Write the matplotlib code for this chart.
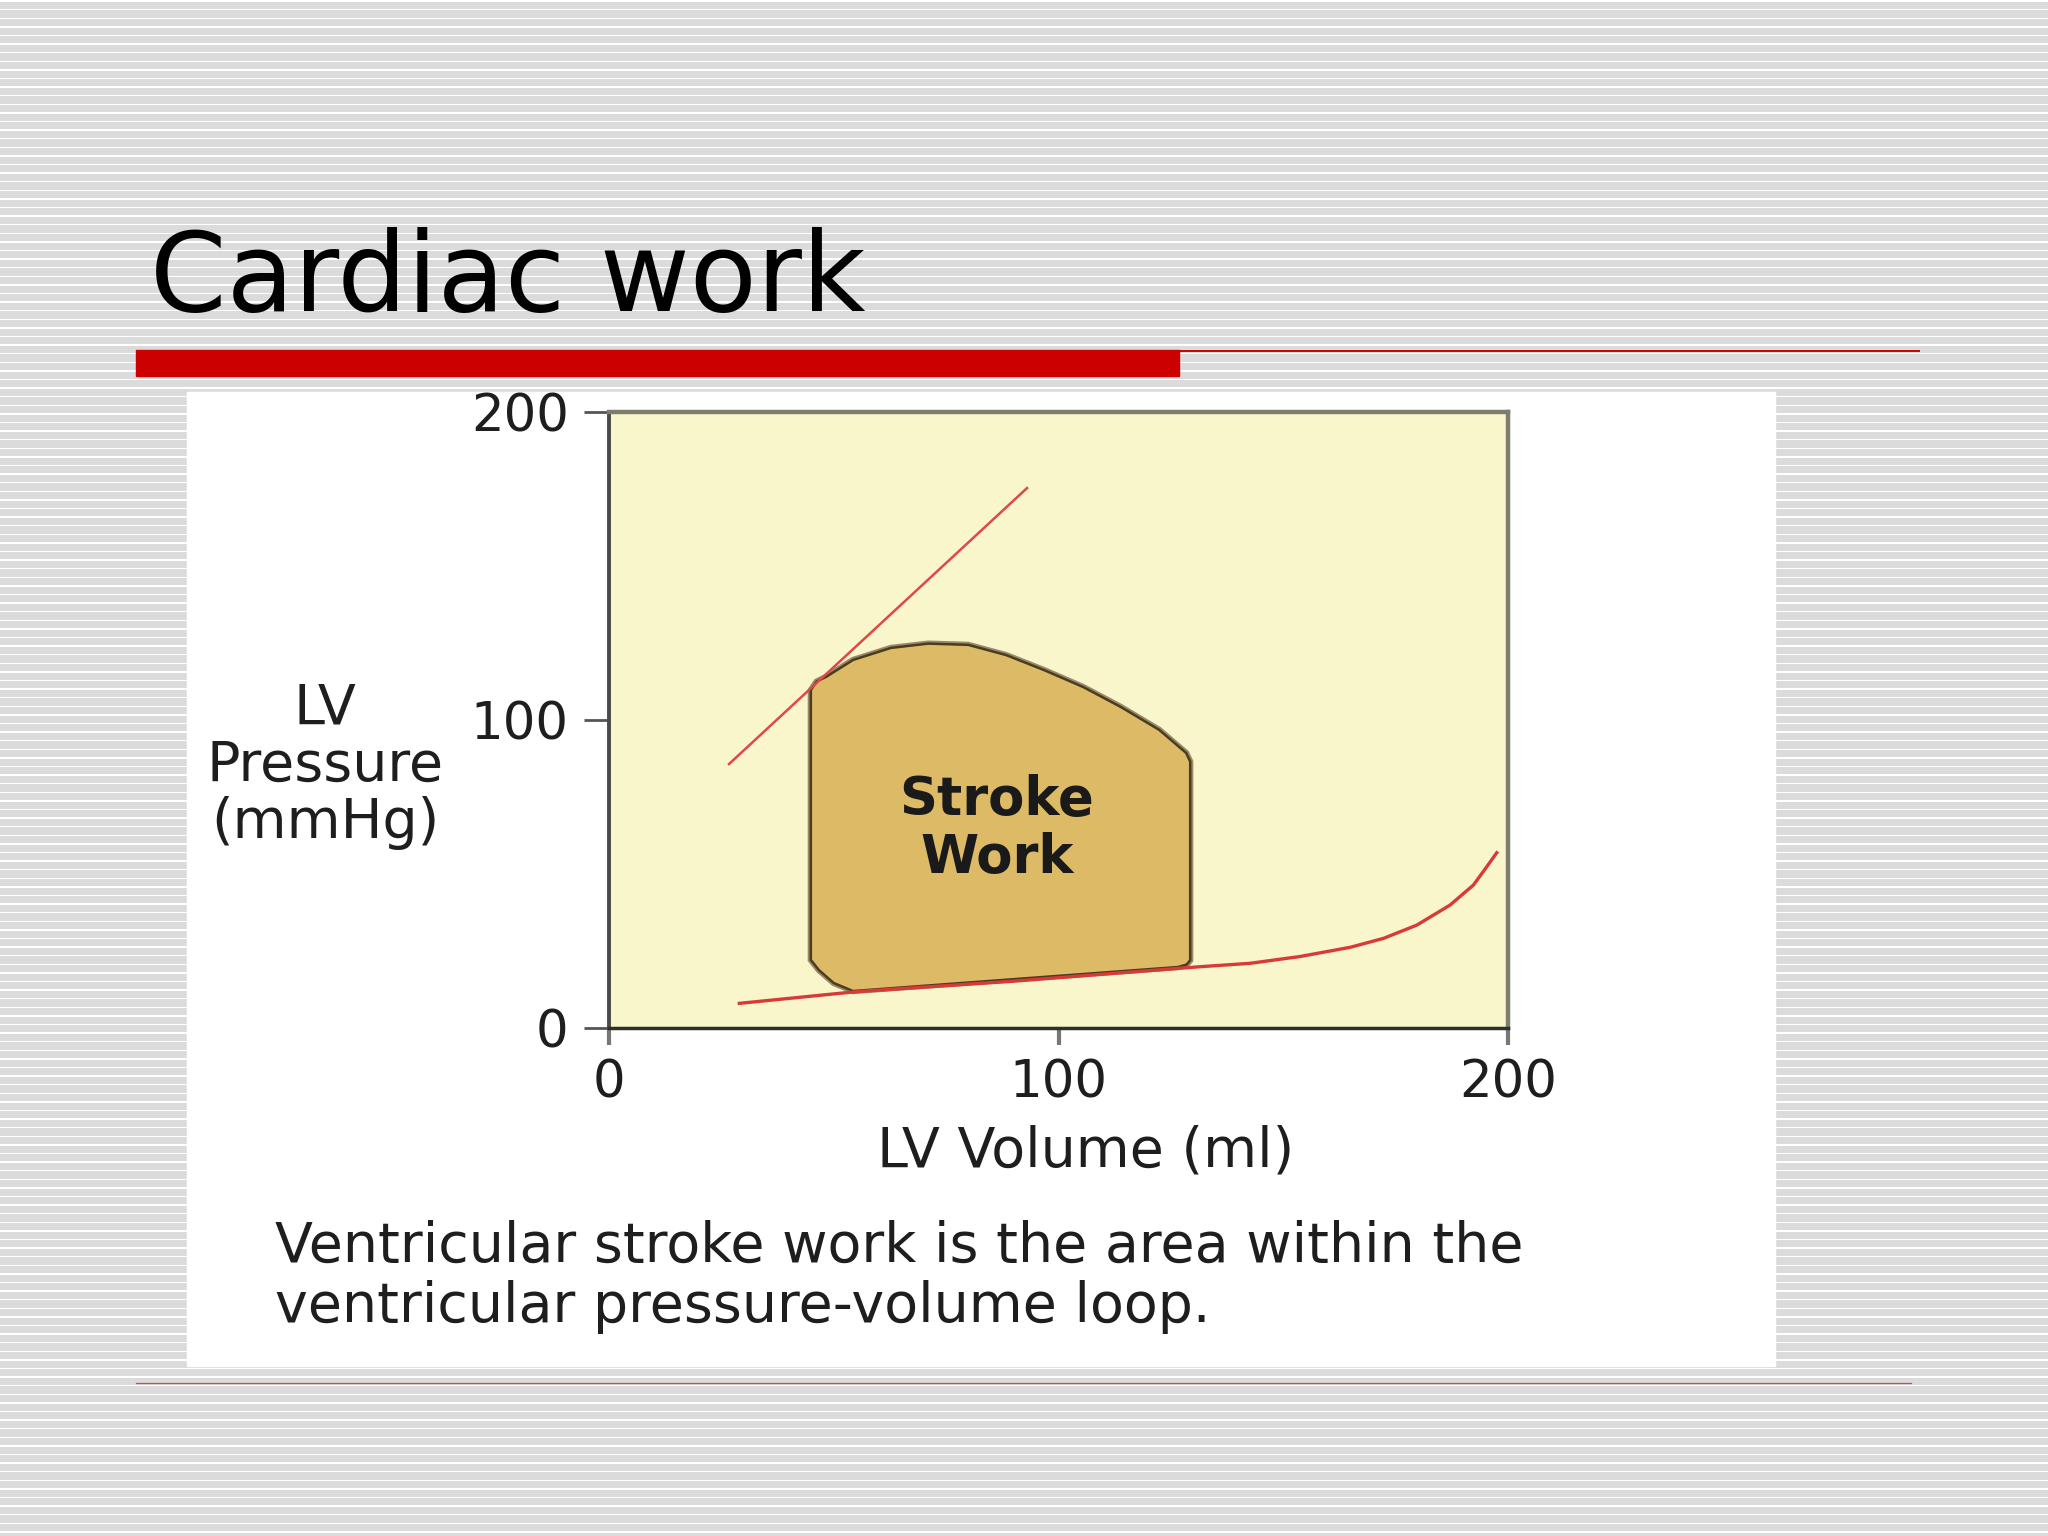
import numpy as np
import matplotlib
matplotlib.use('Agg')
from matplotlib import pyplot as plt
from matplotlib.patches import Rectangle
from matplotlib.lines import Line2D
from matplotlib.transforms import Bbox, TransformedBbox

# pressure-volume loop (ml, mmHg)
loop_vol = [54.3, 50.0, 46.7, 44.9, 44.9, 46.2, 48.3, 54.3, 62.7, 71.0, 79.9,
            88.3, 96.8, 105.5, 113.9, 122.4, 128.4, 129.3, 129.3, 128.5, 126.6]
loop_pres = [12.0, 14.6, 18.8, 22.1, 109.7, 112.5, 114.0, 119.5, 123.4, 124.8, 124.4,
             121.1, 116.2, 110.7, 104.2, 96.8, 89.3, 86.5, 22.0, 20.6, 19.8]

# end-systolic line
espvr_vol = [26.7, 93.0]
espvr_pres = [85.7, 175.3]

# end-diastolic curve
edpvr_vol = [29, 55, 90, 131.5, 142.6, 153.7, 164.9, 172.3, 179.7, 187.1, 192.3, 195.3, 197.5]
edpvr_pres = [8.0, 11.8, 15.2, 19.9, 21.0, 23.2, 26.2, 29.1, 33.4, 39.9, 46.4, 52.4, 56.9]

ticks = [0, 100, 200]

W, H = 2048, 1536
fig = plt.figure(figsize=(W / 100, H / 100), dpi=100)

# striped slide background
bg = fig.add_axes([0, 0, 1, 1], zorder=0)
rows = np.arange(H)
white = (rows % 8.6) < 1.4
img = np.where(white[:, None, None], 1.0, 0.862) * np.ones((H, 1, 3))
bg.imshow(img, aspect='auto', interpolation='nearest', extent=[0, 1, 0, 1])
bg.set_axis_off()

# title and red rules
fig.text(150 / W, 1 - 311 / H, 'Cardiac work', fontsize=79, color='black',
         va='baseline', ha='left', family='DejaVu Sans', zorder=3)
fig.add_artist(Rectangle((136 / W, 1 - 376 / H), (1179 - 136) / W, 26 / H,
                         transform=fig.transFigure, color='#cc0000', zorder=1))
fig.add_artist(Line2D([1179 / W, 1919 / W], [1 - 351 / H, 1 - 351 / H],
                      transform=fig.transFigure, color='#cc0000', lw=1.4, zorder=1))
fig.add_artist(Line2D([136 / W, 1911 / W], [1 - 1383 / H, 1 - 1383 / H],
                      transform=fig.transFigure, color='#d04a4a', lw=0.9, zorder=1))

# white picture panel
panel = Rectangle((187 / W, 1 - 1366 / H), (1775 - 187) / W, (1366 - 392) / H,
                  transform=fig.transFigure, color='white', zorder=1)
fig.add_artist(panel)
panel_box = TransformedBbox(Bbox([[187 / W, 1 - 1366 / H], [1775 / W, 1 - 392 / H]]),
                            fig.transFigure)

# main chart
ax = fig.add_axes([609 / W, 1 - 1028 / H, (1508 - 609) / W, (1028 - 412) / H], zorder=2)
ax.set_facecolor('#f8f6ca')
ax.set_xlim(0, 200)
ax.set_ylim(0, 200)
ax.set_xticks(ticks)
ax.set_yticks(ticks)
ax.tick_params(axis='y', direction='out', length=18, width=2, color='#555555',
               labelsize=37, labelcolor='#1e1e1e', pad=11)
ax.tick_params(axis='x', direction='out', length=12, width=3, color='#777777',
               labelsize=37, labelcolor='#1e1e1e', pad=10)
for lab in ax.get_yticklabels():
    lab.set_clip_box(panel_box)
    lab.set_clip_on(True)
ax.spines['left'].set(color='#4a4a46', lw=2.8)
ax.spines['bottom'].set(color='#2e2e2a', lw=2.5)
ax.spines['top'].set(color='#7d7d6e', lw=3.2)
ax.spines['right'].set(color='#7d7d6e', lw=3.2)

# loop with soft shadow edge
ax.fill(loop_vol, loop_pres, facecolor='none', edgecolor='#9a8a66', lw=4.5, zorder=2)
ax.fill(loop_vol, loop_pres, facecolor='#dcba66', edgecolor='#4a3c22', lw=1.8, zorder=2)

ax.plot(espvr_vol, espvr_pres, color='#e04848', lw=1.8, zorder=3)
ax.plot(edpvr_vol, edpvr_pres, color='#d83a3a', lw=2.4, zorder=3)

ax.text(86.3, 64.6, 'Stroke\nWork', fontsize=38, fontweight='bold', color='#1a1a1a',
        ha='center', va='center', linespacing=1.15, zorder=4)

# axis titles and caption
fig.text(325 / W, 1 - 766 / H, 'LV\nPressure\n(mmHg)', fontsize=40, color='#1e1e1e',
         ha='center', va='center', linespacing=1.08, zorder=3)
fig.text(1086 / W, 1 - 1166 / H, 'LV Volume (ml)', fontsize=40, color='#1e1e1e',
         ha='center', va='baseline', zorder=3)
fig.text(275 / W, 1 - 1262 / H, 'Ventricular stroke work is the area within the',
         fontsize=40, color='#1e1e1e', ha='left', va='baseline', zorder=3)
fig.text(275 / W, 1 - 1322 / H, 'ventricular pressure-volume loop.',
         fontsize=40, color='#1e1e1e', ha='left', va='baseline', zorder=3)

fig.savefig('out.png', dpi=100)
